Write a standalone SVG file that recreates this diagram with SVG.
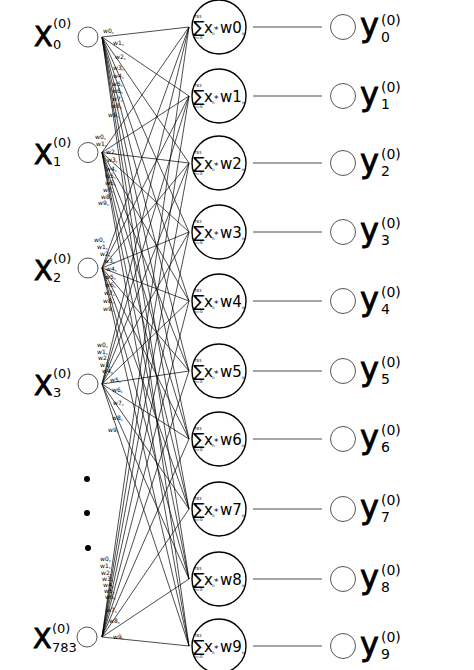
<svg xmlns="http://www.w3.org/2000/svg" width="474" height="670" viewBox="0 0 474 670">
<style>
text{font-family:"DejaVu Sans","Liberation Sans",sans-serif;fill:#000}
.in{fill:#fff;stroke:#555;stroke-width:1}
.sum{fill:#fff;stroke:#000;stroke-width:1.4}
.out{fill:#fff;stroke:#555;stroke-width:1}
.big{font-size:27px;stroke:#000;stroke-width:0.9}
.sup{font-size:13px}
.yb{font-size:32px;stroke:#000;stroke-width:0.8}
.ys{font-size:14px}
.wl{font-size:6px}
.wn{font-size:3px}
.sg{font-size:17px}
.tv{font-size:15px}
.tn{font-size:4px}
.st{font-size:9px}
#conn line{stroke:#000;stroke-width:0.7}
</style>
<g id="conn">
<line x1="102" y1="37" x2="189" y2="27"/><line x1="102" y1="37" x2="189" y2="96"/><line x1="102" y1="37" x2="189" y2="163"/><line x1="102" y1="37" x2="189" y2="232"/><line x1="102" y1="37" x2="189" y2="301"/><line x1="102" y1="37" x2="189" y2="371"/><line x1="102" y1="37" x2="189" y2="439"/><line x1="102" y1="37" x2="189" y2="509"/><line x1="102" y1="37" x2="189" y2="579"/><line x1="102" y1="37" x2="189" y2="646"/>
<line x1="102" y1="152.5" x2="189" y2="27"/><line x1="102" y1="152.5" x2="189" y2="96"/><line x1="102" y1="152.5" x2="189" y2="163"/><line x1="102" y1="152.5" x2="189" y2="232"/><line x1="102" y1="152.5" x2="189" y2="301"/><line x1="102" y1="152.5" x2="189" y2="371"/><line x1="102" y1="152.5" x2="189" y2="439"/><line x1="102" y1="152.5" x2="189" y2="509"/><line x1="102" y1="152.5" x2="189" y2="579"/><line x1="102" y1="152.5" x2="189" y2="646"/>
<line x1="102" y1="268" x2="189" y2="27"/><line x1="102" y1="268" x2="189" y2="96"/><line x1="102" y1="268" x2="189" y2="163"/><line x1="102" y1="268" x2="189" y2="232"/><line x1="102" y1="268" x2="189" y2="301"/><line x1="102" y1="268" x2="189" y2="371"/><line x1="102" y1="268" x2="189" y2="439"/><line x1="102" y1="268" x2="189" y2="509"/><line x1="102" y1="268" x2="189" y2="579"/><line x1="102" y1="268" x2="189" y2="646"/>
<line x1="102" y1="384" x2="189" y2="27"/><line x1="102" y1="384" x2="189" y2="96"/><line x1="102" y1="384" x2="189" y2="163"/><line x1="102" y1="384" x2="189" y2="232"/><line x1="102" y1="384" x2="189" y2="301"/><line x1="102" y1="384" x2="189" y2="371"/><line x1="102" y1="384" x2="189" y2="439"/><line x1="102" y1="384" x2="189" y2="509"/><line x1="102" y1="384" x2="189" y2="579"/><line x1="102" y1="384" x2="189" y2="646"/>
<line x1="102" y1="637" x2="189" y2="27"/><line x1="102" y1="637" x2="189" y2="96"/><line x1="102" y1="637" x2="189" y2="163"/><line x1="102" y1="637" x2="189" y2="232"/><line x1="102" y1="637" x2="189" y2="301"/><line x1="102" y1="637" x2="189" y2="371"/><line x1="102" y1="637" x2="189" y2="439"/><line x1="102" y1="637" x2="189" y2="509"/><line x1="102" y1="637" x2="189" y2="579"/><line x1="102" y1="637" x2="189" y2="646"/>
<line x1="253" y1="27" x2="322" y2="27"/><line x1="253" y1="96" x2="322" y2="96"/><line x1="253" y1="163" x2="322" y2="163"/><line x1="253" y1="232" x2="322" y2="232"/><line x1="253" y1="301" x2="322" y2="301"/><line x1="253" y1="371" x2="322" y2="371"/><line x1="253" y1="439" x2="322" y2="439"/><line x1="253" y1="509" x2="322" y2="509"/><line x1="253" y1="579" x2="322" y2="579"/><line x1="253" y1="646" x2="322" y2="646"/>
</g>
<g id="x0">
<circle class="in" cx="88" cy="37" r="10"/>
<text class="big" x="34" y="46">X</text><text class="sup" x="53" y="28">(0)</text><text class="sup" x="53" y="49">0</text>
<text class="wl" x="103" y="33">w0<tspan class="wn" dy="1">n</tspan></text>
<text class="wl" x="113" y="45">w1<tspan class="wn" dy="1">n</tspan></text>
<text class="wl" x="115" y="59">w2<tspan class="wn" dy="1">n</tspan></text>
<text class="wl" x="113" y="70">w3<tspan class="wn" dy="1">n</tspan></text>
<text class="wl" x="113" y="78">w4<tspan class="wn" dy="1">n</tspan></text>
<text class="wl" x="112" y="86">w5<tspan class="wn" dy="1">n</tspan></text>
<text class="wl" x="112" y="93">w6<tspan class="wn" dy="1">n</tspan></text>
<text class="wl" x="112" y="101">w7<tspan class="wn" dy="1">n</tspan></text>
<text class="wl" x="111" y="108">w8<tspan class="wn" dy="1">n</tspan></text>
<text class="wl" x="108" y="117">w9<tspan class="wn" dy="1">n</tspan></text>
</g>
<g id="x1">
<circle class="in" cx="88" cy="152.5" r="10"/>
<text class="big" x="34" y="164">X</text><text class="sup" x="53" y="147">(0)</text><text class="sup" x="53" y="166">1</text>
<text class="wl" x="95" y="139">w0<tspan class="wn" dy="1">n</tspan></text>
<text class="wl" x="96" y="146">w1<tspan class="wn" dy="1">n</tspan></text>
<text class="wl" x="106" y="154">w2<tspan class="wn" dy="1">n</tspan></text>
<text class="wl" x="107" y="162">w3<tspan class="wn" dy="1">n</tspan></text>
<text class="wl" x="106" y="171">w4<tspan class="wn" dy="1">n</tspan></text>
<text class="wl" x="105" y="178">w5<tspan class="wn" dy="1">n</tspan></text>
<text class="wl" x="105" y="185">w6<tspan class="wn" dy="1">n</tspan></text>
<text class="wl" x="103" y="192">w7<tspan class="wn" dy="1">n</tspan></text>
<text class="wl" x="101" y="198.5">w8<tspan class="wn" dy="1">n</tspan></text>
<text class="wl" x="98" y="205">w9<tspan class="wn" dy="1">n</tspan></text>
</g>
<g id="x2">
<circle class="in" cx="88" cy="268" r="10"/>
<text class="big" x="34" y="280">X</text><text class="sup" x="53" y="263">(0)</text><text class="sup" x="53" y="282">2</text>
<text class="wl" x="94" y="242">w0<tspan class="wn" dy="1">n</tspan></text>
<text class="wl" x="97" y="249">w1<tspan class="wn" dy="1">n</tspan></text>
<text class="wl" x="100" y="256">w2<tspan class="wn" dy="1">n</tspan></text>
<text class="wl" x="104" y="263">w3<tspan class="wn" dy="1">n</tspan></text>
<text class="wl" x="106" y="271">w4<tspan class="wn" dy="1">n</tspan></text>
<text class="wl" x="105" y="279">w5<tspan class="wn" dy="1">n</tspan></text>
<text class="wl" x="105" y="287">w6<tspan class="wn" dy="1">n</tspan></text>
<text class="wl" x="104" y="295">w7<tspan class="wn" dy="1">n</tspan></text>
<text class="wl" x="103" y="303">w8<tspan class="wn" dy="1">n</tspan></text>
<text class="wl" x="103" y="311">w9<tspan class="wn" dy="1">n</tspan></text>
</g>
<g id="x3">
<circle class="in" cx="88" cy="384" r="10"/>
<text class="big" x="34" y="395">X</text><text class="sup" x="53" y="378">(0)</text><text class="sup" x="53" y="397">3</text>
<text class="wl" x="97" y="347">w0<tspan class="wn" dy="1">n</tspan></text>
<text class="wl" x="97" y="353.5">w1<tspan class="wn" dy="1">n</tspan></text>
<text class="wl" x="98" y="360">w2<tspan class="wn" dy="1">n</tspan></text>
<text class="wl" x="100" y="366.5">w3<tspan class="wn" dy="1">n</tspan></text>
<text class="wl" x="102" y="373">w4<tspan class="wn" dy="1">n</tspan></text>
<text class="wl" x="110" y="382">w5<tspan class="wn" dy="1">n</tspan></text>
<text class="wl" x="112" y="392">w6<tspan class="wn" dy="1">n</tspan></text>
<text class="wl" x="113" y="405">w7<tspan class="wn" dy="1">n</tspan></text>
<text class="wl" x="112" y="420">w8<tspan class="wn" dy="1">n</tspan></text>
<text class="wl" x="108" y="432">w9<tspan class="wn" dy="1">n</tspan></text>
</g>
<g id="dots">
<circle cx="87" cy="479" r="3"/><circle cx="87" cy="513" r="3"/><circle cx="88" cy="548" r="3"/>
</g>
<g id="x783">
<circle class="in" cx="87" cy="637" r="10"/>
<text class="big" x="33" y="648">X</text><text class="sup" x="52" y="633">(0)</text><text class="sup" x="52" y="652">783</text>
<text class="wl" x="100" y="561">w0<tspan class="wn" dy="1">n</tspan></text>
<text class="wl" x="100" y="568">w1<tspan class="wn" dy="1">n</tspan></text>
<text class="wl" x="101" y="575">w2<tspan class="wn" dy="1">n</tspan></text>
<text class="wl" x="102" y="581">w3<tspan class="wn" dy="1">n</tspan></text>
<text class="wl" x="103" y="587">w4<tspan class="wn" dy="1">n</tspan></text>
<text class="wl" x="104" y="593">w5<tspan class="wn" dy="1">n</tspan></text>
<text class="wl" x="105" y="599">w6<tspan class="wn" dy="1">n</tspan></text>
<text class="wl" x="106" y="612">w7<tspan class="wn" dy="1">n</tspan></text>
<text class="wl" x="109" y="623">w8<tspan class="wn" dy="1">n</tspan></text>
<text class="wl" x="113" y="639">w9<tspan class="wn" dy="1">n</tspan></text>
</g>
<defs>
<g id="sumtext">
<text class="tn" x="194" y="-9">783</text>
<text class="sg" x="193" y="6">∑</text>
<text class="tn" x="194" y="12">n=0</text>
<text class="tv" x="204" y="6">x</text>
<text class="tn" x="212" y="8">n</text>
<text class="st" x="214" y="6">*</text>
</g>
</defs>
<g id="s0"><circle class="sum" cx="219" cy="27" r="27"/><use href="#sumtext" y="27"/><text class="tv" x="220" y="33">w0<tspan class="tn" dy="2">n</tspan></text></g>
<g id="s1"><circle class="sum" cx="219" cy="96" r="27"/><use href="#sumtext" y="96"/><text class="tv" x="220" y="102">w1<tspan class="tn" dy="2">n</tspan></text></g>
<g id="s2"><circle class="sum" cx="219" cy="163" r="27"/><use href="#sumtext" y="163"/><text class="tv" x="220" y="169">w2<tspan class="tn" dy="2">n</tspan></text></g>
<g id="s3"><circle class="sum" cx="219" cy="232" r="27"/><use href="#sumtext" y="232"/><text class="tv" x="220" y="238">w3<tspan class="tn" dy="2">n</tspan></text></g>
<g id="s4"><circle class="sum" cx="219" cy="301" r="27"/><use href="#sumtext" y="301"/><text class="tv" x="220" y="307">w4<tspan class="tn" dy="2">n</tspan></text></g>
<g id="s5"><circle class="sum" cx="219" cy="371" r="27"/><use href="#sumtext" y="371"/><text class="tv" x="220" y="377">w5<tspan class="tn" dy="2">n</tspan></text></g>
<g id="s6"><circle class="sum" cx="219" cy="439" r="27"/><use href="#sumtext" y="439"/><text class="tv" x="220" y="445">w6<tspan class="tn" dy="2">n</tspan></text></g>
<g id="s7"><circle class="sum" cx="219" cy="509" r="27"/><use href="#sumtext" y="509"/><text class="tv" x="220" y="515">w7<tspan class="tn" dy="2">n</tspan></text></g>
<g id="s8"><circle class="sum" cx="219" cy="579" r="27"/><use href="#sumtext" y="579"/><text class="tv" x="220" y="585">w8<tspan class="tn" dy="2">n</tspan></text></g>
<g id="s9"><circle class="sum" cx="219" cy="646" r="27"/><use href="#sumtext" y="646"/><text class="tv" x="220" y="652">w9<tspan class="tn" dy="2">n</tspan></text></g>
<g id="y0"><circle class="out" cx="343" cy="27" r="12.5"/><text class="yb" x="360" y="36">y</text><text class="ys" x="381" y="25">(0)</text><text class="ys" x="381" y="42">0</text></g>
<g id="y1"><circle class="out" cx="343" cy="96" r="12.5"/><text class="yb" x="360" y="105">y</text><text class="ys" x="381" y="92">(0)</text><text class="ys" x="381" y="109">1</text></g>
<g id="y2"><circle class="out" cx="343" cy="163" r="12.5"/><text class="yb" x="360" y="172">y</text><text class="ys" x="381" y="159">(0)</text><text class="ys" x="381" y="176">2</text></g>
<g id="y3"><circle class="out" cx="343" cy="232" r="12.5"/><text class="yb" x="360" y="241">y</text><text class="ys" x="381" y="228">(0)</text><text class="ys" x="381" y="245">3</text></g>
<g id="y4"><circle class="out" cx="343" cy="301" r="12.5"/><text class="yb" x="360" y="310">y</text><text class="ys" x="381" y="297">(0)</text><text class="ys" x="381" y="314">4</text></g>
<g id="y5"><circle class="out" cx="343" cy="371" r="12.5"/><text class="yb" x="360" y="380">y</text><text class="ys" x="381" y="367">(0)</text><text class="ys" x="381" y="384">5</text></g>
<g id="y6"><circle class="out" cx="343" cy="439" r="12.5"/><text class="yb" x="360" y="448">y</text><text class="ys" x="381" y="435">(0)</text><text class="ys" x="381" y="452">6</text></g>
<g id="y7"><circle class="out" cx="343" cy="509" r="12.5"/><text class="yb" x="360" y="518">y</text><text class="ys" x="381" y="505">(0)</text><text class="ys" x="381" y="522">7</text></g>
<g id="y8"><circle class="out" cx="343" cy="579" r="12.5"/><text class="yb" x="360" y="588">y</text><text class="ys" x="381" y="575">(0)</text><text class="ys" x="381" y="592">8</text></g>
<g id="y9"><circle class="out" cx="343" cy="646" r="12.5"/><text class="yb" x="360" y="655">y</text><text class="ys" x="381" y="642">(0)</text><text class="ys" x="381" y="659">9</text></g>
</svg>
